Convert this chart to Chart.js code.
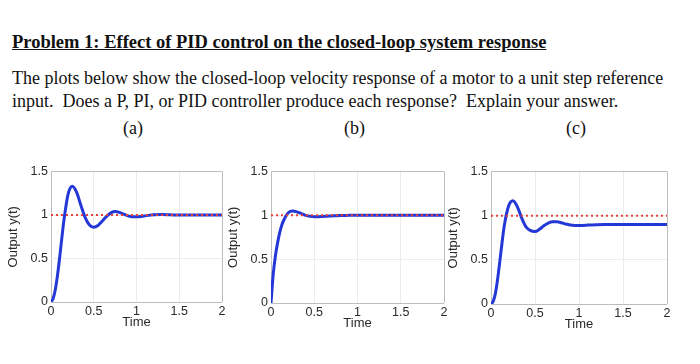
<!DOCTYPE html>
<html>
<head>
<meta charset="utf-8">
<script src="https://cdn.jsdelivr.net/npm/chart.js@4"></script>
<style>
  body { margin: 0; width: 700px; height: 364px; background: #fff; position: relative; overflow: hidden; }
  .txt { position: absolute; white-space: nowrap; font-family: "Liberation Serif", "Times New Roman", serif; font-size: 18px; line-height: 18px; color: #111; }
  #title { left: 12px; top: 33px; font-size: 18.5px; font-weight: bold; text-decoration: underline; }
  .box { position: absolute; }
</style>
</head>
<body>
<div class="txt" id="title">Problem 1: Effect of PID control on the closed-loop system response</div>
<div class="txt" style="left:12px;top:69px">The plots below show the closed-loop velocity response of a motor to a unit step reference</div>
<div class="txt" style="left:12px;top:92px">input.&nbsp; Does a P, PI, or PID controller produce each response?&nbsp; Explain your answer.</div>
<div class="txt" style="left:123px;top:119px">(a)</div>
<div class="txt" style="left:344px;top:119px">(b)</div>
<div class="txt" style="left:566px;top:119px">(c)</div>

<div class="box" style="left:6px;top:161px;width:226px;height:170px"><canvas id="chartA"></canvas></div>
<div class="box" style="left:226px;top:161px;width:228px;height:171px"><canvas id="chartB"></canvas></div>
<div class="box" style="left:446px;top:161px;width:231px;height:172px"><canvas id="chartC"></canvas></div>

<script>
// time samples shared by the three responses
const time = [0, 0.025, 0.05, 0.075, 0.1, 0.125, 0.15, 0.2, 0.25, 0.3, 0.35, 0.4, 0.45, 0.5, 0.55, 0.6,
  0.65, 0.7, 0.75, 0.8, 0.85, 0.9, 0.95, 1.0, 1.1, 1.2, 1.3, 1.4, 1.5, 1.75, 2.0];

const respA = [0, 0.04, 0.14, 0.3, 0.5, 0.72, 0.93, 1.24, 1.33, 1.26, 1.11, 0.97, 0.885, 0.86, 0.88, 0.93,
  0.985, 1.025, 1.04, 1.03, 1.01, 0.99, 0.98, 0.98, 0.99, 1.003, 1.005, 1.002, 1.0, 1.0, 1.0];

const respB = [0, 0.32, 0.53, 0.68, 0.8, 0.89, 0.95, 1.03, 1.05, 1.04, 1.02, 1.0, 0.99, 0.985, 0.985, 0.988,
  0.99, 0.993, 0.995, 0.997, 0.998, 1.0, 1.0, 1.0, 1.0, 1.0, 1.0, 1.0, 1.0, 1.0, 1.0];

const respC = [0, 0.03, 0.12, 0.28, 0.48, 0.69, 0.88, 1.11, 1.17, 1.1, 0.97, 0.87, 0.83, 0.82, 0.845, 0.885,
  0.915, 0.93, 0.93, 0.92, 0.905, 0.895, 0.89, 0.89, 0.893, 0.898, 0.9, 0.9, 0.9, 0.9, 0.9];

// unit step reference
const refTime = [0, 2];
const refValue = [1, 1];

const xTicks = [0, 0.5, 1, 1.5, 2];
const yTicks = [0, 0.5, 1, 1.5];

const tickFont = { family: '"Liberation Sans", Arial, sans-serif', size: 12.5 };
const titleFont = { family: '"Liberation Sans", Arial, sans-serif', size: 13 };

// darker box around the axes, faint grid inside
const edgeColor = (lo, hi) => ctx => {
  const v = ctx.tick ? ctx.tick.value : null;
  return (v === lo || v === hi) ? '#bdbdbd' : '#ececec';
};

function makeChart(id, values) {
  const ctx = document.getElementById(id).getContext('2d');
  return new Chart(ctx, {
    type: 'line',
    data: {
      datasets: [{
        data: refTime.map((t, i) => ({ x: t, y: refValue[i] })),
        borderColor: '#e8413a',
        borderWidth: 2,
        borderDash: [2, 3],
        pointRadius: 0
      }, {
        data: time.map((t, i) => ({ x: t, y: values[i] })),
        borderColor: '#2338d6',
        borderWidth: 3,
        pointRadius: 0,
        cubicInterpolationMode: 'monotone'
      }]
    },
    options: {
      responsive: true,
      maintainAspectRatio: false,
      animation: false,
      layout: { padding: { top: 10, right: 10, left: 0, bottom: 0 } },
      plugins: { legend: { display: false }, tooltip: { enabled: false } },
      scales: {
        x: {
          type: 'linear',
          min: 0, max: 2,
          afterBuildTicks: s => { s.ticks = xTicks.map(v => ({ value: v })); },
          afterFit: s => { s.height = 29; },
          grid: { color: edgeColor(0, 2), drawTicks: false, tickLength: 0 },
          border: { display: false },
          ticks: { font: tickFont, color: '#2a2a2a', padding: 2, maxRotation: 0, callback: v => String(v) },
          title: { display: true, text: 'Time', font: titleFont, color: '#2a2a2a', padding: { top: 0, bottom: 1 } }
        },
        y: {
          min: 0, max: 1.5,
          afterBuildTicks: s => { s.ticks = yTicks.map(v => ({ value: v })); },
          afterFit: s => { s.width = 45; },
          grid: { color: edgeColor(0, 1.5), drawTicks: false, tickLength: 0 },
          border: { display: false },
          ticks: { font: tickFont, color: '#2a2a2a', padding: 3, callback: v => String(v) },
          title: { display: true, text: 'Output y(t)', font: titleFont, color: '#2a2a2a', padding: { top: 0, bottom: 0 } }
        }
      }
    }
  });
}

makeChart('chartA', respA);
makeChart('chartB', respB);
makeChart('chartC', respC);
</script>
</body>
</html>
